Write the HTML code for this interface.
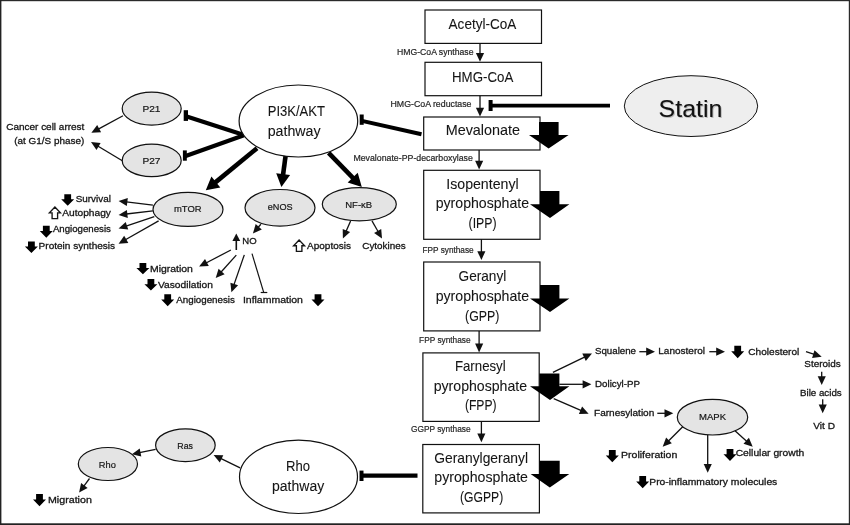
<!DOCTYPE html>
<html><head><meta charset="utf-8"><title>Statin pathway</title>
<style>
html,body{margin:0;padding:0;background:#fff;}
body{width:850px;height:525px;overflow:hidden;font-family:"Liberation Sans",sans-serif;}
svg{display:block;font-family:"Liberation Sans",sans-serif;}
#art{filter:blur(0.35px);}
</style></head><body>
<svg width="850" height="525" viewBox="0 0 850 525">
<rect x="0" y="0" width="850" height="525" fill="#fff"/>
<g id="art">
<line x1="244.0" y1="135.0" x2="186.0" y2="116.3" stroke="#000" stroke-width="4.1"/>
<rect x="183.7" y="110.2" width="4.3" height="10.7" fill="#000"/>
<line x1="244.0" y1="135.3" x2="185.0" y2="156.3" stroke="#000" stroke-width="4.1"/>
<rect x="182.9" y="150.4" width="3.9" height="10.3" fill="#000"/>
<line x1="421.5" y1="134.3" x2="362.0" y2="120.9" stroke="#000" stroke-width="4.0"/>
<rect x="359.7" y="114.5" width="4.0" height="10.3" fill="#000"/>
<line x1="610.0" y1="105.6" x2="490.5" y2="105.6" stroke="#000" stroke-width="3.9"/>
<rect x="488.6" y="100.0" width="4.0" height="11.0" fill="#000"/>
<line x1="417.5" y1="475.6" x2="361.5" y2="475.6" stroke="#000" stroke-width="4.2"/>
<rect x="359.5" y="470.6" width="4.0" height="10.4" fill="#000"/>
<line x1="257.0" y1="148.2" x2="215.1" y2="182.6" stroke="#000" stroke-width="4.6"/>
<polygon points="205.8,190.2 211.4,176.5 220.3,187.4" fill="#000"/>
<line x1="285.7" y1="155.0" x2="283.0" y2="175.1" stroke="#000" stroke-width="4.6"/>
<polygon points="281.4,187.0 276.2,173.2 290.1,175.0" fill="#000"/>
<line x1="328.6" y1="152.9" x2="353.4" y2="178.4" stroke="#000" stroke-width="4.6"/>
<polygon points="361.8,187.0 347.7,182.6 357.7,172.8" fill="#000"/>
<rect x="425" y="10" width="116.5" height="33.4" fill="#fff" stroke="#111" stroke-width="1.2"/>
<rect x="425" y="62.3" width="116.5" height="33.4" fill="#fff" stroke="#111" stroke-width="1.2"/>
<rect x="423.7" y="117" width="116.3" height="33.0" fill="#fff" stroke="#111" stroke-width="1.2"/>
<rect x="423.7" y="170.3" width="116.3" height="69.0" fill="#fff" stroke="#111" stroke-width="1.2"/>
<rect x="423.7" y="262" width="116.3" height="68.9" fill="#fff" stroke="#111" stroke-width="1.2"/>
<rect x="422.9" y="352.9" width="116.3" height="68.5" fill="#fff" stroke="#111" stroke-width="1.2"/>
<rect x="422.8" y="444.5" width="116.6" height="68.4" fill="#fff" stroke="#111" stroke-width="1.2"/>
<polygon points="539.0,122.0 558.6,122.0 558.6,135.0 568.6,135.0 548.6,148.6 529.0,135.0 539.0,135.0" fill="#000"/>
<polygon points="540.0,190.9 559.4,190.9 559.4,204.3 569.4,204.3 550.0,218.0 530.0,204.3 540.0,204.3" fill="#000"/>
<polygon points="540.0,284.9 559.4,284.9 559.4,298.6 569.4,298.6 550.0,312.0 530.0,298.6 540.0,298.6" fill="#000"/>
<polygon points="539.4,373.4 559.4,373.4 559.4,386.3 569.4,386.3 550.0,400.0 530.0,386.3 539.4,386.3" fill="#000"/>
<polygon points="539.6,460.7 559.7,460.7 559.7,474.0 569.3,474.0 549.8,487.5 530.6,474.0 539.6,474.0" fill="#000"/>
<line x1="480.0" y1="43.4" x2="480.0" y2="54.0" stroke="#111" stroke-width="1.3"/>
<polygon points="480.0,61.8 475.9,53.0 484.1,53.0" fill="#111"/>
<line x1="480.0" y1="95.7" x2="480.0" y2="108.7" stroke="#111" stroke-width="1.3"/>
<polygon points="480.0,116.5 475.9,107.7 484.1,107.7" fill="#111"/>
<line x1="479.1" y1="150.0" x2="479.1" y2="161.7" stroke="#111" stroke-width="1.3"/>
<polygon points="479.1,169.5 475.1,160.7 483.2,160.7" fill="#111"/>
<line x1="481.4" y1="239.3" x2="481.4" y2="252.2" stroke="#111" stroke-width="1.3"/>
<polygon points="481.4,260.0 477.3,251.2 485.4,251.2" fill="#111"/>
<line x1="479.1" y1="330.9" x2="479.1" y2="344.6" stroke="#111" stroke-width="1.3"/>
<polygon points="479.1,352.4 475.1,343.6 483.2,343.6" fill="#111"/>
<line x1="481.4" y1="421.4" x2="481.4" y2="434.5" stroke="#111" stroke-width="1.3"/>
<polygon points="481.4,442.3 477.3,433.5 485.4,433.5" fill="#111"/>
<ellipse cx="298.4" cy="121" rx="59.3" ry="36" fill="#fff" stroke="#111" stroke-width="1.2"/>
<ellipse cx="151.7" cy="108.6" rx="29.5" ry="16.5" fill="#e4e4e4" stroke="#111" stroke-width="1.2"/>
<ellipse cx="151.7" cy="160.4" rx="29.5" ry="16.2" fill="#e4e4e4" stroke="#111" stroke-width="1.2"/>
<ellipse cx="188" cy="209.4" rx="35" ry="17" fill="#e4e4e4" stroke="#111" stroke-width="1.2"/>
<ellipse cx="280" cy="207.8" rx="35" ry="18.3" fill="#e4e4e4" stroke="#111" stroke-width="1.2"/>
<ellipse cx="359.3" cy="204.3" rx="37" ry="16.6" fill="#e4e4e4" stroke="#111" stroke-width="1.2"/>
<ellipse cx="691" cy="106.1" rx="66.7" ry="30.4" fill="#eeeeee" stroke="#111" stroke-width="1"/>
<ellipse cx="298.5" cy="476.8" rx="59" ry="36.7" fill="#fff" stroke="#111" stroke-width="1.2"/>
<ellipse cx="185.4" cy="445.2" rx="29.8" ry="16.4" fill="#e4e4e4" stroke="#111" stroke-width="1.2"/>
<ellipse cx="107.9" cy="464" rx="29.6" ry="16.5" fill="#e4e4e4" stroke="#111" stroke-width="1.2"/>
<ellipse cx="712.5" cy="417.2" rx="35.2" ry="17.8" fill="#e4e4e4" stroke="#111" stroke-width="1.2"/>
<text x="448.6" y="29.2" font-size="14.5" textLength="67.7" lengthAdjust="spacingAndGlyphs" fill="#151515" stroke="#151515" stroke-width="0.08" font-weight="normal" >Acetyl-CoA</text>
<text x="452.0" y="81.6" font-size="14.5" textLength="61.3" lengthAdjust="spacingAndGlyphs" fill="#151515" stroke="#151515" stroke-width="0.08" font-weight="normal" >HMG-CoA</text>
<text x="445.7" y="135.1" font-size="14.5" textLength="74.3" lengthAdjust="spacingAndGlyphs" fill="#151515" stroke="#151515" stroke-width="0.08" font-weight="normal" >Mevalonate</text>
<text x="446.3" y="188.6" font-size="14.5" textLength="72.3" lengthAdjust="spacingAndGlyphs" fill="#151515" stroke="#151515" stroke-width="0.08" font-weight="normal" >Isopentenyl</text>
<text x="435.7" y="207.8" font-size="14.5" textLength="93.4" lengthAdjust="spacingAndGlyphs" fill="#151515" stroke="#151515" stroke-width="0.08" font-weight="normal" >pyrophosphate</text>
<text x="468.6" y="228.2" font-size="14.5" textLength="28.0" lengthAdjust="spacingAndGlyphs" fill="#151515" stroke="#151515" stroke-width="0.08" font-weight="normal" >(IPP)</text>
<text x="458.6" y="281.4" font-size="14.5" textLength="47.7" lengthAdjust="spacingAndGlyphs" fill="#151515" stroke="#151515" stroke-width="0.08" font-weight="normal" >Geranyl</text>
<text x="435.7" y="300.9" font-size="14.5" textLength="93.4" lengthAdjust="spacingAndGlyphs" fill="#151515" stroke="#151515" stroke-width="0.08" font-weight="normal" >pyrophosphate</text>
<text x="465.1" y="320.9" font-size="14.5" textLength="34.3" lengthAdjust="spacingAndGlyphs" fill="#151515" stroke="#151515" stroke-width="0.08" font-weight="normal" >(GPP)</text>
<text x="454.9" y="370.6" font-size="14.5" textLength="50.8" lengthAdjust="spacingAndGlyphs" fill="#151515" stroke="#151515" stroke-width="0.08" font-weight="normal" >Farnesyl</text>
<text x="433.7" y="390.6" font-size="14.5" textLength="93.4" lengthAdjust="spacingAndGlyphs" fill="#151515" stroke="#151515" stroke-width="0.08" font-weight="normal" >pyrophosphate</text>
<text x="464.9" y="410.0" font-size="14.5" textLength="31.7" lengthAdjust="spacingAndGlyphs" fill="#151515" stroke="#151515" stroke-width="0.08" font-weight="normal" >(FPP)</text>
<text x="434.3" y="462.5" font-size="14.5" textLength="93.7" lengthAdjust="spacingAndGlyphs" fill="#151515" stroke="#151515" stroke-width="0.08" font-weight="normal" >Geranylgeranyl</text>
<text x="434.3" y="482.0" font-size="14.5" textLength="93.7" lengthAdjust="spacingAndGlyphs" fill="#151515" stroke="#151515" stroke-width="0.08" font-weight="normal" >pyrophosphate</text>
<text x="460.0" y="502.2" font-size="14.5" textLength="43.2" lengthAdjust="spacingAndGlyphs" fill="#151515" stroke="#151515" stroke-width="0.08" font-weight="normal" >(GGPP)</text>
<text x="397.0" y="54.5" font-size="8.5" textLength="76.5" lengthAdjust="spacingAndGlyphs" fill="#262626" stroke="#262626" stroke-width="0.2" font-weight="normal" >HMG-CoA synthase</text>
<text x="390.5" y="107.0" font-size="8.5" textLength="81.0" lengthAdjust="spacingAndGlyphs" fill="#262626" stroke="#262626" stroke-width="0.2" font-weight="normal" >HMG-CoA reductase</text>
<text x="353.4" y="160.6" font-size="8.5" textLength="119.5" lengthAdjust="spacingAndGlyphs" fill="#262626" stroke="#262626" stroke-width="0.2" font-weight="normal" >Mevalonate-PP-decarboxylase</text>
<text x="422.5" y="252.8" font-size="8.5" textLength="51.1" lengthAdjust="spacingAndGlyphs" fill="#262626" stroke="#262626" stroke-width="0.2" font-weight="normal" >FPP synthase</text>
<text x="419.1" y="342.9" font-size="8.5" textLength="51.5" lengthAdjust="spacingAndGlyphs" fill="#262626" stroke="#262626" stroke-width="0.2" font-weight="normal" >FPP synthase</text>
<text x="410.9" y="432.3" font-size="8.5" textLength="59.7" lengthAdjust="spacingAndGlyphs" fill="#262626" stroke="#262626" stroke-width="0.2" font-weight="normal" >GGPP synthase</text>
<text x="267.7" y="115.7" font-size="14" textLength="57.2" lengthAdjust="spacingAndGlyphs" fill="#151515" stroke="#151515" stroke-width="0.08" font-weight="normal" >PI3K/AKT</text>
<text x="267.7" y="135.7" font-size="14" textLength="52.9" lengthAdjust="spacingAndGlyphs" fill="#151515" stroke="#151515" stroke-width="0.08" font-weight="normal" >pathway</text>
<text x="286.1" y="471.2" font-size="14" textLength="24.0" lengthAdjust="spacingAndGlyphs" fill="#151515" stroke="#151515" stroke-width="0.08" font-weight="normal" >Rho</text>
<text x="272.0" y="491.0" font-size="14" textLength="52.2" lengthAdjust="spacingAndGlyphs" fill="#151515" stroke="#151515" stroke-width="0.08" font-weight="normal" >pathway</text>
<text x="142.5" y="111.8" font-size="9.7" textLength="18.0" lengthAdjust="spacingAndGlyphs" fill="#151515" stroke="#151515" stroke-width="0.2" font-weight="normal" >P21</text>
<text x="142.5" y="164.2" font-size="9.7" textLength="18.0" lengthAdjust="spacingAndGlyphs" fill="#151515" stroke="#151515" stroke-width="0.2" font-weight="normal" >P27</text>
<text x="174.0" y="211.5" font-size="9.7" textLength="27.5" lengthAdjust="spacingAndGlyphs" fill="#151515" stroke="#151515" stroke-width="0.2" font-weight="normal" >mTOR</text>
<text x="267.8" y="210.1" font-size="9.7" textLength="24.8" lengthAdjust="spacingAndGlyphs" fill="#151515" stroke="#151515" stroke-width="0.2" font-weight="normal" >eNOS</text>
<text x="345.2" y="207.5" font-size="9.7" textLength="27.0" lengthAdjust="spacingAndGlyphs" fill="#151515" stroke="#151515" stroke-width="0.2" font-weight="normal" >NF-κB</text>
<text x="177.3" y="449.3" font-size="9.7" textLength="15.6" lengthAdjust="spacingAndGlyphs" fill="#151515" stroke="#151515" stroke-width="0.2" font-weight="normal" >Ras</text>
<text x="98.8" y="468.2" font-size="9.7" textLength="17.0" lengthAdjust="spacingAndGlyphs" fill="#151515" stroke="#151515" stroke-width="0.2" font-weight="normal" >Rho</text>
<text x="699.0" y="419.5" font-size="9.7" textLength="27.0" lengthAdjust="spacingAndGlyphs" fill="#151515" stroke="#151515" stroke-width="0.2" font-weight="normal" >MAPK</text>
<text x="659.6" y="118.0" font-size="24" textLength="63.7" lengthAdjust="spacingAndGlyphs" fill="#999" stroke="#999" stroke-width="0.08" font-weight="normal" opacity="0.6">Statin</text>
<text x="658.6" y="117.1" font-size="24" textLength="63.7" lengthAdjust="spacingAndGlyphs" fill="#111" stroke="#111" stroke-width="0.08" font-weight="normal" >Statin</text>
<text x="6.3" y="130.4" font-size="9.7" textLength="78.0" lengthAdjust="spacingAndGlyphs" fill="#151515" stroke="#151515" stroke-width="0.3" font-weight="normal" >Cancer cell arrest</text>
<text x="14.3" y="144.1" font-size="9.7" textLength="70.0" lengthAdjust="spacingAndGlyphs" fill="#151515" stroke="#151515" stroke-width="0.3" font-weight="normal" >(at G1/S phase)</text>
<text x="75.7" y="201.9" font-size="9.7" textLength="35.2" lengthAdjust="spacingAndGlyphs" fill="#151515" stroke="#151515" stroke-width="0.3" font-weight="normal" >Survival</text>
<text x="62.3" y="216.2" font-size="9.7" textLength="48.6" lengthAdjust="spacingAndGlyphs" fill="#151515" stroke="#151515" stroke-width="0.3" font-weight="normal" >Autophagy</text>
<text x="52.9" y="231.9" font-size="9.7" textLength="58.0" lengthAdjust="spacingAndGlyphs" fill="#151515" stroke="#151515" stroke-width="0.3" font-weight="normal" >Angiogenesis</text>
<text x="38.6" y="248.5" font-size="9.7" textLength="76.5" lengthAdjust="spacingAndGlyphs" fill="#151515" stroke="#151515" stroke-width="0.3" font-weight="normal" >Protein synthesis</text>
<text x="150.0" y="271.9" font-size="9.7" textLength="42.9" lengthAdjust="spacingAndGlyphs" fill="#151515" stroke="#151515" stroke-width="0.3" font-weight="normal" >Migration</text>
<text x="158.0" y="287.6" font-size="9.7" textLength="54.9" lengthAdjust="spacingAndGlyphs" fill="#151515" stroke="#151515" stroke-width="0.3" font-weight="normal" >Vasodilation</text>
<text x="176.3" y="303.4" font-size="9.7" textLength="58.6" lengthAdjust="spacingAndGlyphs" fill="#151515" stroke="#151515" stroke-width="0.3" font-weight="normal" >Angiogenesis</text>
<text x="242.9" y="303.4" font-size="9.7" textLength="60.0" lengthAdjust="spacingAndGlyphs" fill="#151515" stroke="#151515" stroke-width="0.3" font-weight="normal" >Inflammation</text>
<text x="242.3" y="244.1" font-size="9.7" textLength="14.3" lengthAdjust="spacingAndGlyphs" fill="#151515" stroke="#151515" stroke-width="0.3" font-weight="normal" >NO</text>
<text x="307.1" y="248.5" font-size="9.7" textLength="43.8" lengthAdjust="spacingAndGlyphs" fill="#151515" stroke="#151515" stroke-width="0.3" font-weight="normal" >Apoptosis</text>
<text x="362.3" y="248.5" font-size="9.7" textLength="43.4" lengthAdjust="spacingAndGlyphs" fill="#151515" stroke="#151515" stroke-width="0.3" font-weight="normal" >Cytokines</text>
<text x="48.0" y="503.0" font-size="9.7" textLength="43.8" lengthAdjust="spacingAndGlyphs" fill="#151515" stroke="#151515" stroke-width="0.3" font-weight="normal" >Migration</text>
<text x="595.0" y="353.8" font-size="9.7" textLength="41.0" lengthAdjust="spacingAndGlyphs" fill="#151515" stroke="#151515" stroke-width="0.3" font-weight="normal" >Squalene</text>
<text x="658.3" y="353.8" font-size="9.7" textLength="46.7" lengthAdjust="spacingAndGlyphs" fill="#151515" stroke="#151515" stroke-width="0.3" font-weight="normal" >Lanosterol</text>
<text x="748.3" y="354.8" font-size="9.7" textLength="51.0" lengthAdjust="spacingAndGlyphs" fill="#151515" stroke="#151515" stroke-width="0.3" font-weight="normal" >Cholesterol</text>
<text x="804.3" y="366.5" font-size="9.7" textLength="36.4" lengthAdjust="spacingAndGlyphs" fill="#151515" stroke="#151515" stroke-width="0.3" font-weight="normal" >Steroids</text>
<text x="800.0" y="396.2" font-size="9.7" textLength="41.7" lengthAdjust="spacingAndGlyphs" fill="#151515" stroke="#151515" stroke-width="0.3" font-weight="normal" >Bile acids</text>
<text x="813.3" y="428.8" font-size="9.7" textLength="21.7" lengthAdjust="spacingAndGlyphs" fill="#151515" stroke="#151515" stroke-width="0.3" font-weight="normal" >Vit D</text>
<text x="595.0" y="387.2" font-size="9.7" textLength="45.0" lengthAdjust="spacingAndGlyphs" fill="#151515" stroke="#151515" stroke-width="0.3" font-weight="normal" >Dolicyl-PP</text>
<text x="594.0" y="415.5" font-size="9.7" textLength="60.3" lengthAdjust="spacingAndGlyphs" fill="#151515" stroke="#151515" stroke-width="0.3" font-weight="normal" >Farnesylation</text>
<text x="621.0" y="458.2" font-size="9.7" textLength="56.3" lengthAdjust="spacingAndGlyphs" fill="#151515" stroke="#151515" stroke-width="0.3" font-weight="normal" >Proliferation</text>
<text x="735.7" y="456.2" font-size="9.7" textLength="68.6" lengthAdjust="spacingAndGlyphs" fill="#151515" stroke="#151515" stroke-width="0.3" font-weight="normal" >Cellular growth</text>
<text x="649.3" y="484.5" font-size="9.7" textLength="128.0" lengthAdjust="spacingAndGlyphs" fill="#151515" stroke="#151515" stroke-width="0.3" font-weight="normal" >Pro-inflammatory molecules</text>
<polygon points="64.3,194.3 71.1,194.3 71.1,199.3 74.2,199.3 67.7,205.7 61.2,199.3 64.3,199.3" fill="#000"/>
<polygon points="54.9,207.0 60.4,212.8 57.6,212.8 57.6,218.6 52.1,218.6 52.1,212.8 49.4,212.8" fill="#fff" stroke="#151515" stroke-width="1.35"/>
<polygon points="42.9,225.7 49.7,225.7 49.7,231.0 52.8,231.0 46.3,237.7 39.8,231.0 42.9,231.0" fill="#000"/>
<polygon points="28.0,241.4 34.8,241.4 34.8,246.5 37.9,246.5 31.4,252.9 24.9,246.5 28.0,246.5" fill="#000"/>
<polygon points="139.5,262.9 146.3,262.9 146.3,267.9 149.4,267.9 142.9,274.3 136.4,267.9 139.5,267.9" fill="#000"/>
<polygon points="147.5,279.1 154.3,279.1 154.3,284.2 157.4,284.2 150.9,290.6 144.4,284.2 147.5,284.2" fill="#000"/>
<polygon points="164.3,294.3 171.1,294.3 171.1,299.6 174.2,299.6 167.7,306.3 161.2,299.6 164.3,299.6" fill="#000"/>
<polygon points="314.6,294.3 321.4,294.3 321.4,299.6 324.5,299.6 318.0,306.3 311.5,299.6 314.6,299.6" fill="#000"/>
<polygon points="299.1,240.0 304.6,245.7 301.9,245.7 301.9,251.4 296.4,251.4 296.4,245.7 293.6,245.7" fill="#fff" stroke="#151515" stroke-width="1.35"/>
<polygon points="36.1,494.0 42.9,494.0 42.9,499.4 46.0,499.4 39.5,506.2 33.0,499.4 36.1,499.4" fill="#000"/>
<polygon points="734.3,345.7 741.1,345.7 741.1,351.2 744.2,351.2 737.7,358.3 731.2,351.2 734.3,351.2" fill="#000"/>
<polygon points="608.9,450.0 615.7,450.0 615.7,455.4 618.8,455.4 612.3,462.3 605.8,455.4 608.9,455.4" fill="#000"/>
<polygon points="726.6,449.0 733.4,449.0 733.4,454.3 736.5,454.3 730.0,461.0 723.5,454.3 726.6,454.3" fill="#000"/>
<polygon points="639.3,476.0 646.1,476.0 646.1,481.4 649.2,481.4 642.7,488.3 636.2,481.4 639.3,481.4" fill="#000"/>
<line x1="123.0" y1="115.7" x2="98.3" y2="129.1" stroke="#111" stroke-width="1.3"/>
<polygon points="91.4,132.8 97.2,125.0 101.1,132.2" fill="#111"/>
<line x1="122.3" y1="160.8" x2="97.7" y2="146.0" stroke="#111" stroke-width="1.3"/>
<polygon points="91.0,142.0 100.6,143.1 96.5,150.0" fill="#111"/>
<line x1="152.9" y1="205.1" x2="126.3" y2="201.8" stroke="#111" stroke-width="1.3"/>
<polygon points="118.6,200.9 127.8,197.9 126.8,206.0" fill="#111"/>
<line x1="152.9" y1="210.9" x2="126.3" y2="214.0" stroke="#111" stroke-width="1.3"/>
<polygon points="118.6,214.9 126.9,209.9 127.8,217.9" fill="#111"/>
<line x1="154.3" y1="216.6" x2="126.0" y2="226.1" stroke="#111" stroke-width="1.3"/>
<polygon points="118.6,228.6 125.7,222.0 128.2,229.6" fill="#111"/>
<line x1="158.6" y1="220.9" x2="125.4" y2="239.8" stroke="#111" stroke-width="1.3"/>
<polygon points="118.6,243.7 124.2,235.8 128.3,242.9" fill="#111"/>
<line x1="260.9" y1="224.3" x2="258.0" y2="227.5" stroke="#111" stroke-width="1.3"/>
<polygon points="252.9,233.4 255.7,224.1 261.8,229.5" fill="#111"/>
<line x1="236.3" y1="250.0" x2="236.3" y2="240.1" stroke="#111" stroke-width="1.6"/>
<polygon points="236.3,233.6 240.2,241.1 232.4,241.1" fill="#111"/>
<line x1="230.9" y1="250.0" x2="206.0" y2="263.0" stroke="#111" stroke-width="1.3"/>
<polygon points="199.1,266.6 205.0,258.9 208.8,266.1" fill="#111"/>
<line x1="236.3" y1="255.1" x2="220.9" y2="272.2" stroke="#111" stroke-width="1.3"/>
<polygon points="215.7,278.0 218.6,268.7 224.6,274.2" fill="#111"/>
<line x1="244.3" y1="254.9" x2="233.9" y2="284.9" stroke="#111" stroke-width="1.3"/>
<polygon points="231.4,292.3 230.4,282.7 238.1,285.3" fill="#111"/>
<line x1="252" y1="253.7" x2="263.7" y2="292.3" stroke="#111" stroke-width="1.2"/>
<line x1="260.7" y1="292.5" x2="267.3" y2="292.5" stroke="#111" stroke-width="1.2"/>
<line x1="350.6" y1="220.9" x2="346.0" y2="231.4" stroke="#111" stroke-width="1.3"/>
<polygon points="342.9,238.6 342.7,228.9 350.1,232.1" fill="#111"/>
<line x1="372.0" y1="220.9" x2="378.2" y2="231.8" stroke="#111" stroke-width="1.3"/>
<polygon points="382.0,238.6 374.1,232.9 381.2,228.9" fill="#111"/>
<line x1="155.6" y1="449.4" x2="139.5" y2="452.7" stroke="#111" stroke-width="1.3"/>
<polygon points="131.9,454.2 139.7,448.5 141.3,456.4" fill="#111"/>
<line x1="240.1" y1="467.8" x2="220.6" y2="458.4" stroke="#111" stroke-width="1.3"/>
<polygon points="213.6,455.0 223.3,455.2 219.8,462.5" fill="#111"/>
<line x1="89.5" y1="478.5" x2="83.7" y2="486.3" stroke="#111" stroke-width="1.3"/>
<polygon points="79.1,492.6 81.1,483.1 87.6,487.9" fill="#111"/>
<line x1="552.9" y1="372.3" x2="585.0" y2="356.8" stroke="#111" stroke-width="1.3"/>
<polygon points="592.0,353.4 585.8,360.9 582.3,353.6" fill="#111"/>
<line x1="559.4" y1="384.3" x2="583.6" y2="384.3" stroke="#111" stroke-width="1.3"/>
<polygon points="591.4,384.3 582.6,388.4 582.6,380.2" fill="#111"/>
<line x1="553.7" y1="398.6" x2="581.4" y2="410.6" stroke="#111" stroke-width="1.3"/>
<polygon points="588.6,413.7 578.9,413.9 582.1,406.5" fill="#111"/>
<line x1="639.3" y1="351.7" x2="647.2" y2="351.7" stroke="#111" stroke-width="1.3"/>
<polygon points="655.0,351.7 646.2,355.8 646.2,347.6" fill="#111"/>
<line x1="709.3" y1="351.7" x2="717.2" y2="351.7" stroke="#111" stroke-width="1.3"/>
<polygon points="725.0,351.7 716.2,355.8 716.2,347.6" fill="#111"/>
<line x1="806.0" y1="351.7" x2="814.3" y2="354.3" stroke="#111" stroke-width="1.3"/>
<polygon points="821.7,356.7 812.1,357.9 814.5,350.2" fill="#111"/>
<line x1="821.7" y1="371.7" x2="821.7" y2="377.2" stroke="#111" stroke-width="1.3"/>
<polygon points="821.7,385.0 817.7,376.2 825.8,376.2" fill="#111"/>
<line x1="822.7" y1="399.3" x2="822.7" y2="405.5" stroke="#111" stroke-width="1.3"/>
<polygon points="822.7,413.3 818.7,404.5 826.8,404.5" fill="#111"/>
<line x1="657.3" y1="413.3" x2="665.5" y2="413.3" stroke="#111" stroke-width="1.3"/>
<polygon points="673.3,413.3 664.5,417.4 664.5,409.2" fill="#111"/>
<line x1="682.7" y1="426.7" x2="668.2" y2="441.2" stroke="#111" stroke-width="1.3"/>
<polygon points="662.7,446.7 666.1,437.6 671.8,443.3" fill="#111"/>
<line x1="707.7" y1="435.0" x2="707.7" y2="464.9" stroke="#111" stroke-width="1.3"/>
<polygon points="707.7,472.7 703.7,463.9 711.8,463.9" fill="#111"/>
<line x1="735.0" y1="430.7" x2="746.9" y2="441.5" stroke="#111" stroke-width="1.3"/>
<polygon points="752.7,446.7 743.5,443.8 748.9,437.8" fill="#111"/>
</g>
<!-- frame -->
<rect x="0" y="0" width="850" height="1.2" fill="#2a2a2a"/>
<rect x="0" y="0" width="1.4" height="525" fill="#222"/>
<rect x="848.8" y="0" width="1.2" height="525" fill="#2a2a2a"/>
<rect x="0" y="523.3" width="850" height="1.7" fill="#222"/>
</svg>
</body></html>
